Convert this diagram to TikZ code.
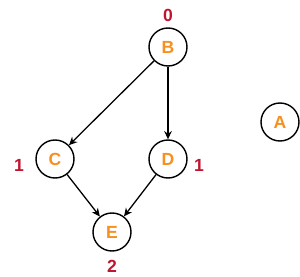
\documentclass[tikz,border=0pt]{standalone}
\usepackage{fontspec}
\setmainfont{Liberation Sans}
\usetikzlibrary{arrows.meta, positioning}
\definecolor{VertexOrange}{HTML}{F7901E}
\definecolor{LevelRed}{HTML}{C0152F}
\definecolor{EdgeBlack}{HTML}{000000}
\tikzset{
    vertex/.style={
        circle,
        draw=EdgeBlack,
        line width=1.2pt,
        fill=white,
        minimum size=1.14cm,
        inner sep=0pt,
        text=VertexOrange,
        font=\fontsize{15}{17}\selectfont\bfseries
    },
    level/.style={
        text=LevelRed,
        font=\fontsize{15}{17}\selectfont\bfseries,
        inner sep=0pt
    },
    arrow/.style={
        -{Stealth[length=7pt,width=6.5pt]},
        line width=1.1pt,
        EdgeBlack
    }
}
\begin{document}
\begin{tikzpicture}[x=0.03cm, y=-0.03cm]
        \useasboundingbox (0,0) rectangle (300,277);

        % Vertices
        \node[vertex] (B) at (168,47) {B};
        \node[vertex] (C) at (55,159) {C};
        \node[vertex] (D) at (168,159) {D};
        \node[vertex] (E) at (112,232) {E};
        \node[vertex] (A) at (280,122) {A};

        % Levels
        \node[level] (lB) at (168,15) {0};
        \node[level] (lC) at (19,165) {1};
        \node[level] (lD) at (199,165) {1};
        \node[level] (lE) at (112,266) {2};

        % Edges
        \draw[arrow] (B) -- (C);
        \draw[arrow] (B) -- (D);
        \draw[arrow] (C) -- (E);
        \draw[arrow] (D) -- (E);
    \end{tikzpicture}
\end{document}
